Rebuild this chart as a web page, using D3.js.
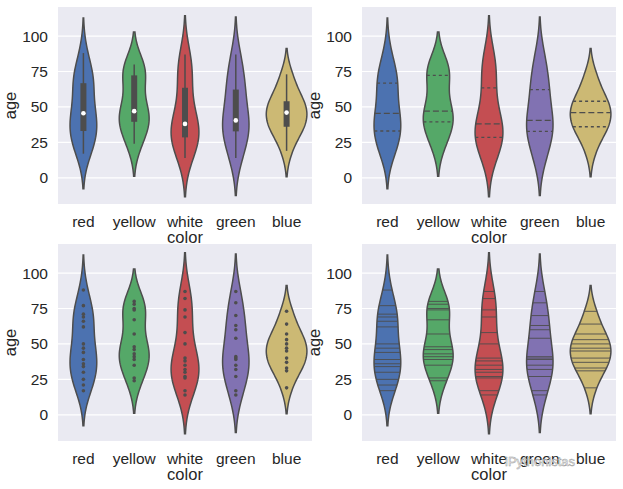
<!DOCTYPE html>
<html><head><meta charset="utf-8">
<script src="https://cdn.jsdelivr.net/npm/d3@7"></script>
<style>body{margin:0;background:#fff}text{font-family:"Liberation Sans",Arial,sans-serif;fill:#262626}</style>
</head><body><svg id="c" width="623" height="489"></svg>
<script>
const categories=["red","yellow","white","green","blue"];
const redAges=[88,77,71,69,66,62,50,47,44,39,36,34,30,25,21,17];
const yellowAges=[80,78,75,74,67,57,48,46,43,41,39,35,26,24];
const whiteAges=[87,82,74,69,58,50,40,38,35,32,30,27,26,17,14];
const greenAges=[87,79,70,63,60,54,41,40,39,35,32,27,17,14];
const blueAges=[73,64,57,53,50,47,45,40,37,33,31,19];
const yTicks=[0,25,50,75,100];
const colors=["#4C72B0","#55A868","#C44E52","#8172B2","#CCB974"];
const inners=["box","quartile","point","stick"];
const data=[redAges,yellowAges,whiteAges,greenAges,blueAges];

function kde(v){
  const n=v.length,sd=d3.deviation(v),bw=sd*Math.pow(n,-0.2);
  const lo=d3.min(v)-2*bw,hi=d3.max(v)+2*bw,pts=[];
  for(let i=0;i<=100;i++){const y=lo+(hi-lo)*i/100;
    let s=0;v.forEach(x=>{const z=(y-x)/bw;s+=Math.exp(-0.5*z*z);});
    pts.push([y,s/(n*bw*Math.sqrt(2*Math.PI))]);}
  return {pts,bw};
}
const dens=data.map(kde);
const maxD=d3.max(dens,d=>d3.max(d.pts,p=>p[1]));
function densAt(d,y){const p=d.pts;if(y<=p[0][0]||y>=p[p.length-1][0])return 0;
  for(let i=1;i<p.length;i++)if(p[i][0]>=y){const t=(y-p[i-1][0])/(p[i][0]-p[i-1][0]);return p[i-1][1]+t*(p[i][1]-p[i-1][1]);}return 0;}

const svg=d3.select("#c");
const panels=[{x:58,y:7},{x:362,y:7},{x:58,y:244},{x:362,y:244}];
const W=254,H=197;
panels.forEach((P,pi)=>{
  const g=svg.append("g").attr("transform",`translate(${P.x},${P.y})`);
  const x=d3.scaleBand().domain(categories).range([0,W]);
  const y=d3.scaleLinear().domain([-18.5,120.5]).range([H,0]);
  g.append("rect").attr("width",W).attr("height",H).attr("fill","#EAEAF2");
  yTicks.forEach(t=>g.append("line").attr("x1",0).attr("x2",W).attr("y1",y(t)).attr("y2",y(t)).attr("stroke","#fff").attr("stroke-width",1.2));
  const half=x.bandwidth()*0.8/2;
  const wS=d=>d/maxD*half;
  const inner=inners[pi];
  categories.forEach((c,ci)=>{
    const cx=x(c)+x.bandwidth()/2,d=dens[ci];
    const area=d3.area().y(p=>y(p[0])).x0(p=>cx-wS(p[1])).x1(p=>cx+wS(p[1]));
    g.append("path").attr("d",area(d.pts)).attr("fill",colors[ci]).attr("stroke","#4d4d4d").attr("stroke-width",1.5);
    const v=data[ci].slice().sort(d3.ascending);
    const q1=d3.quantile(v,0.25),q2=d3.quantile(v,0.5),q3=d3.quantile(v,0.75);
    if(inner==="box"){
      const iqr=q3-q1,wl=d3.min(v.filter(a=>a>=q1-1.5*iqr)),wh=d3.max(v.filter(a=>a<=q3+1.5*iqr));
      g.append("line").attr("x1",cx).attr("x2",cx).attr("y1",y(wl)).attr("y2",y(wh)).attr("stroke","#4d4d4d").attr("stroke-width",1.5);
      g.append("line").attr("x1",cx).attr("x2",cx).attr("y1",y(q1)).attr("y2",y(q3)).attr("stroke","#4d4d4d").attr("stroke-width",6);
      g.append("circle").attr("cx",cx).attr("cy",y(q2)).attr("r",2.3).attr("fill","#fff");
    } else if(inner==="quartile"){
      [[q1,"3,3"],[q2,"6,3"],[q3,"3,3"]].forEach(([q,da])=>{const w=wS(densAt(d,q));
        g.append("line").attr("x1",cx-w).attr("x2",cx+w).attr("y1",y(q)).attr("y2",y(q)).attr("stroke","#4d4d4d").attr("stroke-width",1.3).attr("stroke-dasharray",da);});
    } else if(inner==="point"){
      v.forEach(a=>g.append("circle").attr("cx",cx).attr("cy",y(a)).attr("r",1.8).attr("fill","#4d4d4d"));
    } else {
      v.forEach(a=>{const w=wS(densAt(d,a));
        g.append("line").attr("x1",cx-w).attr("x2",cx+w).attr("y1",y(a)).attr("y2",y(a)).attr("stroke","#4d4d4d").attr("stroke-width",0.9);});
    }
  });
  const ax=g.append("g").attr("transform",`translate(0,${H})`).call(d3.axisBottom(x).tickSize(0).tickPadding(12));
  ax.select(".domain").remove();ax.selectAll("text").attr("font-size",15.5).style("font-family","Liberation Sans, Arial, sans-serif").style("fill","#262626");
  const ay=g.append("g").call(d3.axisLeft(y).tickValues(yTicks).tickSize(0).tickPadding(10));
  ay.select(".domain").remove();ay.selectAll("text").attr("font-size",15.5).style("font-family","Liberation Sans, Arial, sans-serif").style("fill","#262626");
  g.append("text").attr("x",W/2).attr("y",H+39).attr("text-anchor","middle").attr("font-size",16.5).text("color");
  g.append("text").attr("transform",`translate(-42,${H/2}) rotate(-90)`).attr("text-anchor","middle").attr("font-size",16.5).text("age");
});
svg.append("text").attr("x",505).attr("y",466).attr("font-size",13).style("fill","#ffffff").style("stroke","#999").style("stroke-width",0.5).text("iPythonistas");
</script></body></html>
